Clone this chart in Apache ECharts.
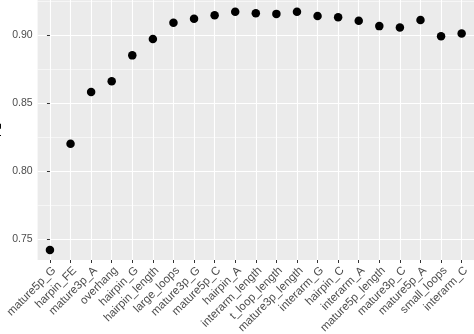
<!DOCTYPE html>
<html><head><meta charset="utf-8">
<script src="https://cdn.jsdelivr.net/npm/echarts@6/dist/echarts.min.js"></script>
<style>html,body{margin:0;padding:0;background:#fff}#c{width:474px;height:334px}</style>
</head><body><div id="c"></div>
<script>
const categories = ["mature5p_G","harpin_FE","mature3p_A","overhang","hairpin_G","hairpin_length","large_loops","mature3p_G","mature5p_C","hairpin_A","interarm_length","t_loop_length","mature3p_length","interarm_G","hairpin_C","interarm_A","mature5p_length","mature3p_C","mature5p_A","small_loops","interarm_C"];
const f1Values = [0.742,0.820,0.858,0.866,0.885,0.897,0.909,0.912,0.9145,0.917,0.916,0.9155,0.917,0.914,0.913,0.9105,0.9065,0.9055,0.911,0.899,0.901];
const yTicks = [0.75,0.80,0.85,0.90];
const yMinorTicks = [0.775,0.825,0.875,0.925];
const yMin = 0.7346, yMax = 0.9257;

const chart = echarts.init(document.getElementById('c'), null, {renderer:'canvas'});
const catIdx = categories.map((_, i) => i);
const font = 'Liberation Sans, Arial, sans-serif';
chart.setOption({
  animation: false,
  grid: {left: 37.6, right: 0, top: 0, bottom: 74, show: true, backgroundColor: '#EBEBEB', borderWidth: 0,
    containLabel: false, outerBoundsMode: 'none'},
  xAxis: {
    type: 'value', min: -0.6, max: categories.length - 1 + 0.6,
    axisLine: {show: false},
    axisTick: {show: true, customValues: catIdx, length: 3, lineStyle: {color: '#333333', width: 1}},
    axisLabel: {customValues: catIdx, rotate: 45, margin: 4.5, color: '#4D4D4D', fontSize: 11.5,
      fontFamily: font, hideOverlap: false, align: 'right', verticalAlign: 'top',
      formatter: v => categories[Math.round(v)]},
    splitLine: {show: true, lineStyle: {color: '#FFFFFF', width: 1.1}}
  },
  yAxis: [{
    type: 'value', min: yMin, max: yMax,
    name: 'F1', nameLocation: 'middle', nameGap: 34, nameMoveOverlap: false,
    nameTextStyle: {color: '#000', fontSize: 12, fontFamily: font},
    axisLine: {show: false},
    axisTick: {show: true, customValues: yTicks, length: 3, lineStyle: {color: '#333333', width: 1}},
    axisLabel: {customValues: yTicks, margin: 5, color: '#4D4D4D', fontSize: 10.5,
      fontFamily: font, formatter: v => v.toFixed(2)},
    splitLine: {show: true, lineStyle: {color: '#FFFFFF', width: 1.1}}
  }, {
    type: 'value', min: yMin, max: yMax, position: 'left',
    axisLine: {show: false},
    axisTick: {show: false, customValues: yMinorTicks},
    axisLabel: {show: false, customValues: yMinorTicks},
    splitLine: {show: true, lineStyle: {color: '#FFFFFF', width: 0.55}}
  }],
  series: [{
    type: 'scatter', xAxisIndex: 0, yAxisIndex: 0,
    data: f1Values.map((v, i) => [i, v]),
    symbolSize: 8.5,
    itemStyle: {color: '#000000', opacity: 1}
  }]
});
</script></body></html>
